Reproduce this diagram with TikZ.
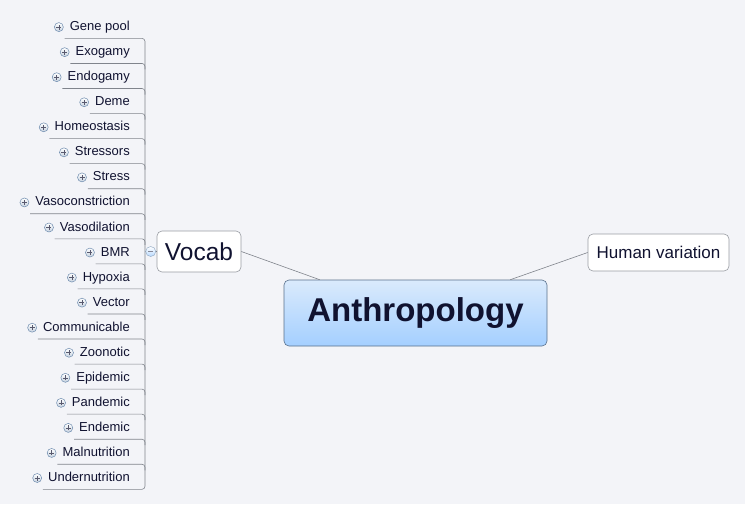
\documentclass[tikz,border=0pt]{standalone}
\usepackage{fontspec}
\setmainfont{Liberation Sans}
\usetikzlibrary{positioning}
\definecolor{bg}{RGB}{243,244,248}
\definecolor{ink}{RGB}{16,18,48}
\definecolor{edge}{RGB}{128,132,140}
\definecolor{iconrim}{RGB}{110,140,175}
\definecolor{skytop}{RGB}{218,234,252}
\definecolor{skybot}{RGB}{164,207,255}

\begin{document}
\begin{tikzpicture}[x=1pt,y=-1pt,
    leaf/.style={anchor=east,inner xsep=5pt,inner ysep=5.6pt,text height=9pt,text depth=2pt,
        font=\fontsize{13}{15}\selectfont,text=ink},
    twig/.style={draw=edge,line width=0.6pt,rounded corners=3pt},
    icon/.style={circle,draw=iconrim,line width=0.5pt,minimum size=9pt,inner sep=0pt,
        top color=white,bottom color=iconrim!40},
    plusicon/.style={icon,path picture={\draw[ink!70,line width=0.6pt]
        ([xshift=-2.5pt]path picture bounding box.center) -- ([xshift=2.5pt]path picture bounding box.center)
        ([yshift=-2.5pt]path picture bounding box.center) -- ([yshift=2.5pt]path picture bounding box.center);}},
    minusicon/.style={icon,minimum size=10pt,draw=iconrim!70,bottom color=skybot!80,path picture={\draw[ink!50,line width=0.6pt]
        ([xshift=-2.6pt]path picture bounding box.center) -- ([xshift=2.6pt]path picture bounding box.center);}},
    topic/.style={draw=edge!80,line width=0.6pt,rounded corners=5pt,fill=white,text=ink,inner sep=0pt}]
    \useasboundingbox[fill=bg] (0,0) rectangle (745,504);
    % main topic and its two branches
    \node[topic,draw=iconrim!80!black,top color=skytop,bottom color=skybot,
        minimum width=263pt,minimum height=66pt,font=\fontsize{33}{36}\selectfont\bfseries] (anth) at (415.5,313) {Anthropology};
    \node[topic,minimum width=84pt,minimum height=41pt,font=\fontsize{24.5}{28}\selectfont] (vocab) at (199,251.5) {Vocab};
    \node[topic,minimum width=141pt,minimum height=37pt,font=\fontsize{17}{20}\selectfont] (human) at (658.5,252.5) {Human variation};
    \draw[edge,line width=0.6pt] (vocab.east) -- ([xshift=36pt]anth.north west);
    \draw[edge,line width=0.6pt] (human.west) -- ([xshift=-37pt]anth.north east);
    % vocabulary list
    \coordinate (brk) at (145,0);
    \foreach \t [count=\i] in {Gene pool,Exogamy,Endogamy,Deme,Homeostasis,Stressors,Stress,Vasoconstriction,
        Vasodilation,BMR,Hypoxia,Vector,Communicable,Zoonotic,Epidemic,Pandemic,Endemic,Malnutrition,Undernutrition}
    {
        \node[leaf] (l\i) at (135,{27.1+25.05*(\i-1)}) {\t};
        \node[plusicon] (p\i) [left=1pt of l\i] {};
    }
    \draw[twig] (l1.south west) -- (l1.south west -| brk) -- (l19.south west -| brk) -- (l19.south west);
    \foreach \i in {2,...,18}
        \draw[twig] (l\i.south west) -- (l\i.south west -| brk) -- ([yshift=-6pt]l\i.south west -| brk);
    \draw[edge,line width=0.6pt] (brk |- vocab.west) -- (vocab.west);
    \node[minusicon] (fold) at ([xshift=-6pt]vocab.west) {};
\end{tikzpicture}
\end{document}
